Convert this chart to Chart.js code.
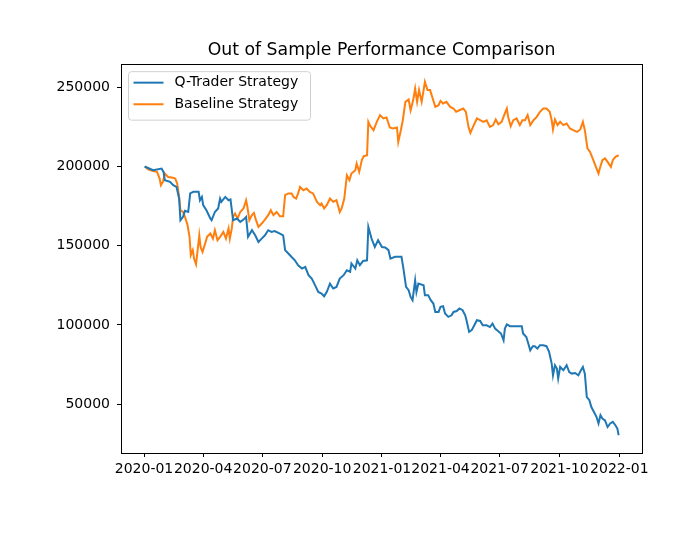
<!DOCTYPE html>
<html>
<head>
<meta charset="utf-8">
<title>Out of Sample Performance Comparison</title>
<script src="https://cdn.jsdelivr.net/npm/chart.js@4.4.1/dist/chart.umd.min.js"></script>
<style>
  html, body { margin: 0; padding: 0; background: #fff; }
  #chart { display: block; }
</style>
</head>
<body>
<canvas id="chart" width="700" height="534"></canvas>
<script>
// Q-Trader strategy portfolio value
const qDates = [
  '2020-01-02','2020-01-15','2020-01-28','2020-01-31','2020-02-02','2020-02-10','2020-02-15','2020-02-20','2020-02-24','2020-02-26',
  '2020-03-01','2020-03-04','2020-03-09','2020-03-12','2020-03-17','2020-03-25','2020-03-27','2020-03-30','2020-04-01','2020-04-06',
  '2020-04-12','2020-04-14','2020-04-19','2020-04-24','2020-04-27','2020-04-29','2020-05-05','2020-05-10','2020-05-13','2020-05-17',
  '2020-05-23','2020-05-28','2020-06-02','2020-06-06','2020-06-09','2020-06-15','2020-06-20','2020-06-25','2020-06-30','2020-07-05',
  '2020-07-10','2020-07-15','2020-07-20','2020-07-28','2020-08-02','2020-08-05','2020-08-10','2020-08-15','2020-08-20','2020-08-25',
  '2020-08-31','2020-09-05','2020-09-10','2020-09-15','2020-09-20','2020-09-25','2020-09-30','2020-10-04','2020-10-08','2020-10-13',
  '2020-10-18','2020-10-23','2020-10-28','2020-11-03','2020-11-08','2020-11-13','2020-11-15','2020-11-21','2020-11-24','2020-11-28',
  '2020-12-03','2020-12-09','2020-12-11','2020-12-16','2020-12-21','2020-12-26','2021-01-01','2021-01-06','2021-01-11','2021-01-14',
  '2021-01-21','2021-01-31','2021-02-03','2021-02-07','2021-02-11','2021-02-14','2021-02-17','2021-02-21','2021-02-23','2021-02-26',
  '2021-03-06','2021-03-08','2021-03-13','2021-03-17','2021-03-21','2021-03-24','2021-03-29','2021-04-01','2021-04-05','2021-04-08',
  '2021-04-13','2021-04-18','2021-04-21','2021-04-26','2021-04-30','2021-05-05','2021-05-09','2021-05-11','2021-05-15','2021-05-19',
  '2021-05-23','2021-05-27','2021-06-01','2021-06-05','2021-06-11','2021-06-16','2021-06-20','2021-06-24','2021-06-27','2021-07-03',
  '2021-07-07','2021-07-09','2021-07-12','2021-07-17','2021-07-25','2021-08-04','2021-08-06','2021-08-11','2021-08-14','2021-08-17',
  '2021-08-21','2021-08-24','2021-08-28','2021-09-01','2021-09-06','2021-09-11','2021-09-15','2021-09-19','2021-09-21','2021-09-24',
  '2021-09-27','2021-09-29','2021-10-02','2021-10-07','2021-10-12','2021-10-16','2021-10-20','2021-10-25','2021-10-30','2021-11-03',
  '2021-11-06','2021-11-09','2021-11-12','2021-11-16','2021-11-19','2021-11-23','2021-11-27','2021-11-30','2021-12-03','2021-12-06',
  '2021-12-10','2021-12-14','2021-12-18','2021-12-22','2021-12-26','2021-12-29','2021-12-31'
];
const qValues = [
  200000, 197700, 198700, 196600, 191350, 190300, 188200, 187100, 179800, 166100,
  168200, 172000, 171300, 183000, 184000, 184000, 178700, 180800, 175600, 172400,
  167200, 166100, 171300, 173500, 179800, 177700, 180800, 178700, 179200, 166100,
  167200, 165000, 166500, 168200, 155600, 159800, 156600, 152400, 154500, 156600,
  159800, 158700, 159300, 157700, 156600, 147200, 145100, 142900, 140800, 137700,
  135600, 136600, 131400, 129300, 125100, 120800, 119800, 118100, 120800, 126100,
  123000, 124000, 129300, 131400, 134500, 133500, 138800, 135600, 140800, 137700,
  140400, 140800, 161900, 154500, 149200, 153500, 149200, 148900, 147200, 141900,
  143000, 143000, 135600, 124000, 121900, 117700, 115600, 128200, 120800, 126100,
  125100, 118800, 118800, 115600, 113500, 108200, 108200, 111400, 111800, 107200,
  105100, 106100, 108200, 108800, 110400, 109300, 106100, 103000, 95600, 96700,
  99800, 103000, 102500, 99800, 99800, 98700, 100900, 97700, 96700, 94600,
  90300, 97700, 100400, 99200, 99200, 99200, 94600, 92400, 88300, 84000,
  86600, 86600, 85100, 87200, 87200, 86600, 83000, 75600, 68200, 74600,
  72500, 66200, 73500, 71400, 74600, 70300, 69300, 69700, 68200, 71400,
  73500, 69300, 54500, 52500, 48200, 45100, 41900, 37800, 43000, 40900,
  39800, 35600, 37800, 38800, 36700, 34600, 30400
];

// Baseline strategy portfolio value
const bDates = [
  '2020-01-02','2020-01-08','2020-01-15','2020-01-21','2020-01-25','2020-01-27','2020-01-30','2020-02-02','2020-02-07','2020-02-13',
  '2020-02-18','2020-02-21','2020-02-24','2020-02-26','2020-03-01','2020-03-04','2020-03-08','2020-03-11','2020-03-13','2020-03-16',
  '2020-03-18','2020-03-21','2020-03-24','2020-03-26','2020-03-28','2020-03-31','2020-04-04','2020-04-07','2020-04-12','2020-04-16',
  '2020-04-19','2020-04-23','2020-04-27','2020-05-02','2020-05-06','2020-05-10','2020-05-12','2020-05-15','2020-05-17','2020-05-20',
  '2020-05-24','2020-05-28','2020-06-02','2020-06-06','2020-06-08','2020-06-11','2020-06-15','2020-06-18','2020-06-21','2020-06-25',
  '2020-06-30','2020-07-05','2020-07-10','2020-07-14','2020-07-18','2020-07-23','2020-07-28','2020-08-02','2020-08-05','2020-08-10',
  '2020-08-15','2020-08-18','2020-08-22','2020-08-25','2020-08-28','2020-09-02','2020-09-07','2020-09-12','2020-09-17','2020-09-23',
  '2020-09-28','2020-09-30','2020-10-04','2020-10-08','2020-10-13','2020-10-18','2020-10-23','2020-10-26','2020-10-28','2020-10-31',
  '2020-11-04','2020-11-08','2020-11-12','2020-11-15','2020-11-21','2020-11-23','2020-11-27','2020-12-01','2020-12-04','2020-12-09',
  '2020-12-11','2020-12-14','2020-12-19','2020-12-24','2020-12-29','2021-01-03','2021-01-08','2021-01-13','2021-01-18','2021-01-24',
  '2021-01-26','2021-01-30','2021-02-02','2021-02-06','2021-02-11','2021-02-14','2021-02-18','2021-02-21','2021-02-24','2021-02-27',
  '2021-03-03','2021-03-06','2021-03-08','2021-03-12','2021-03-16','2021-03-20','2021-03-24','2021-03-29','2021-04-01','2021-04-05',
  '2021-04-10','2021-04-16','2021-04-21','2021-04-25','2021-04-30','2021-05-06','2021-05-10','2021-05-14','2021-05-17','2021-05-21',
  '2021-05-27','2021-06-01','2021-06-06','2021-06-11','2021-06-16','2021-06-21','2021-06-25','2021-06-29','2021-07-04','2021-07-09',
  '2021-07-12','2021-07-14','2021-07-18','2021-07-22','2021-07-27','2021-08-01','2021-08-05','2021-08-09','2021-08-13','2021-08-17',
  '2021-08-22','2021-08-27','2021-09-01','2021-09-06','2021-09-11','2021-09-16','2021-09-19','2021-09-21','2021-09-24','2021-09-28',
  '2021-10-02','2021-10-07','2021-10-12','2021-10-17','2021-10-22','2021-10-28','2021-11-02','2021-11-06','2021-11-09','2021-11-13',
  '2021-11-17','2021-11-21','2021-11-26','2021-11-30','2021-12-02','2021-12-06','2021-12-10','2021-12-14','2021-12-19','2021-12-22',
  '2021-12-26','2021-12-31'
];
const bValues = [
  200000, 198100, 197200, 196600, 192400, 188200, 190300, 195600, 193400, 193000,
  192400, 189300, 180800, 172400, 171300, 168200, 162900, 155600, 144000, 147200,
  141900, 138300, 149200, 156600, 149200, 146100, 151400, 155600, 157700, 154500,
  159800, 153500, 155600, 158700, 154500, 160900, 154500, 160900, 168200, 170300,
  167200, 171300, 173500, 178700, 174500, 166100, 169300, 170700, 166500, 161900,
  164000, 166500, 169300, 172400, 169300, 171300, 168600, 168600, 181900, 183000,
  183000, 180800, 179800, 183000, 187100, 185000, 186100, 184000, 183000, 177700,
  175600, 176600, 173500, 175600, 179800, 177700, 178700, 174500, 171300, 173500,
  179800, 194500, 191400, 195600, 197700, 201900, 196600, 204000, 206500, 207100,
  228200, 225500, 222900, 228200, 232400, 230300, 230900, 224600, 224000, 224600,
  215500, 222900, 229200, 240800, 242300, 235500, 241900, 249200, 240800, 248200,
  240800, 248200, 253400, 248200, 248200, 242900, 237600, 238700, 241400, 239800,
  240800, 237600, 236600, 234500, 235500, 236600, 234500, 225000, 221200, 225000,
  230300, 229200, 228200, 229200, 225000, 226100, 229700, 226700, 228200, 233500,
  236600, 231300, 225400, 229200, 230300, 226100, 229200, 229200, 232400, 226100,
  229200, 231300, 234500, 236600, 236600, 234500, 229200, 223400, 229700, 226100,
  228200, 226100, 227100, 224000, 222900, 221800, 223400, 228200, 222900, 211400,
  209200, 205100, 199700, 195600, 198700, 204000, 205100, 202900, 199700, 204000,
  206100, 207100
];

const xTickLabels = ['2020-01', '2020-04', '2020-07', '2020-10', '2021-01', '2021-04', '2021-07', '2021-10', '2022-01'];
const yTicks = [50000, 100000, 150000, 200000, 250000];

const DAY = 86400000;
const toTime = s => Date.parse(s + 'T00:00:00Z');
const origin = toTime('2020-01-01');
const xTickValues = xTickLabels.map(l => toTime(l + '-01'));

const FONT = "'DejaVu Sans', sans-serif";

// matplotlib-style legend box in the top-left corner of the axes
const innerLegend = {
  id: 'innerLegend',
  afterDatasetsDraw(chart) {
    const { ctx, chartArea } = chart;
    const x = chartArea.left + 7.5, y = chartArea.top + 7.5, w = 182, h = 48.5, r = 3;
    ctx.save();
    ctx.beginPath();
    ctx.roundRect(x, y, w, h, r);
    ctx.fillStyle = 'rgba(255,255,255,0.8)';
    ctx.fill();
    ctx.strokeStyle = '#d0d0d0';
    ctx.lineWidth = 1;
    ctx.stroke();
    ctx.font = '14px ' + FONT;
    ctx.textBaseline = 'middle';
    chart.data.datasets.forEach((ds, i) => {
      const ly = y + 11 + i * 21.6;
      ctx.beginPath();
      ctx.moveTo(x + 5, ly);
      ctx.lineTo(x + 35, ly);
      ctx.strokeStyle = ds.borderColor;
      ctx.lineWidth = 2;
      ctx.stroke();
      ctx.fillStyle = '#000';
      ctx.fillText(ds.label, x + 46, ly);
    });
    ctx.restore();
  },
  afterDraw(chart) {
    // four spines around the axes
    const { ctx, chartArea } = chart;
    ctx.save();
    ctx.strokeStyle = '#000';
    ctx.lineWidth = 1;
    ctx.strokeRect(Math.round(chartArea.left) + 0.5, Math.round(chartArea.top) + 0.5,
      Math.round(chartArea.width), Math.round(chartArea.height));
    ctx.restore();
  }
};

new Chart(document.getElementById('chart'), {
  type: 'line',
  data: {
    datasets: [{
      label: 'Q-Trader Strategy',
      data: qDates.map((d, i) => ({ x: toTime(d), y: qValues[i] })),
      borderColor: '#1f77b4',
      borderWidth: 2,
      pointRadius: 0,
      tension: 0,
    }, {
      label: 'Baseline Strategy',
      data: bDates.map((d, i) => ({ x: toTime(d), y: bValues[i] })),
      borderColor: '#ff7f0e',
      borderWidth: 2,
      pointRadius: 0,
      tension: 0,
    }],
  },
  options: {
    responsive: false,
    animation: false,
    devicePixelRatio: 1,
    layout: { padding: { left: 0, right: 58, top: 0, bottom: 0 } },
    scales: {
      x: {
        type: 'linear',
        min: origin - 35.4 * DAY,
        max: origin + 765.9 * DAY,
        afterBuildTicks: s => { s.ticks = xTickValues.map(v => ({ value: v })); },
        afterFit: s => { s.height = 81; s.paddingLeft = 0; s.paddingRight = 0; },
        ticks: {
          autoSkip: false,
          maxRotation: 0,
          minRotation: 0,
          padding: 4,
          color: '#000',
          font: { family: FONT, size: 14 },
          callback: v => xTickLabels[xTickValues.indexOf(v)],
        },
        grid: { drawOnChartArea: false, drawTicks: true, tickLength: 4, color: '#000' },
        border: { display: false },
      },
      y: {
        min: 19192,
        max: 264583,
        afterBuildTicks: s => { s.ticks = yTicks.map(v => ({ value: v })); },
        afterFit: s => { s.width = 121; s.paddingTop = 0; s.paddingBottom = 0; },
        ticks: {
          padding: 7,
          color: '#000',
          font: { family: FONT, size: 14 },
          callback: v => String(v),
        },
        grid: { drawOnChartArea: false, drawTicks: true, tickLength: 4, color: '#000' },
        border: { display: false },
      },
    },
    plugins: {
      legend: { display: false },
      tooltip: { enabled: false },
      title: {
        display: true,
        fullSize: false,
        text: 'Out of Sample Performance Comparison',
        color: '#000',
        font: { family: FONT, size: 17.3, weight: 'normal', lineHeight: 1.2 },
        padding: { top: 40, bottom: 3.4 },
      },
    },
  },
  plugins: [innerLegend],
});
</script>
</body>
</html>
